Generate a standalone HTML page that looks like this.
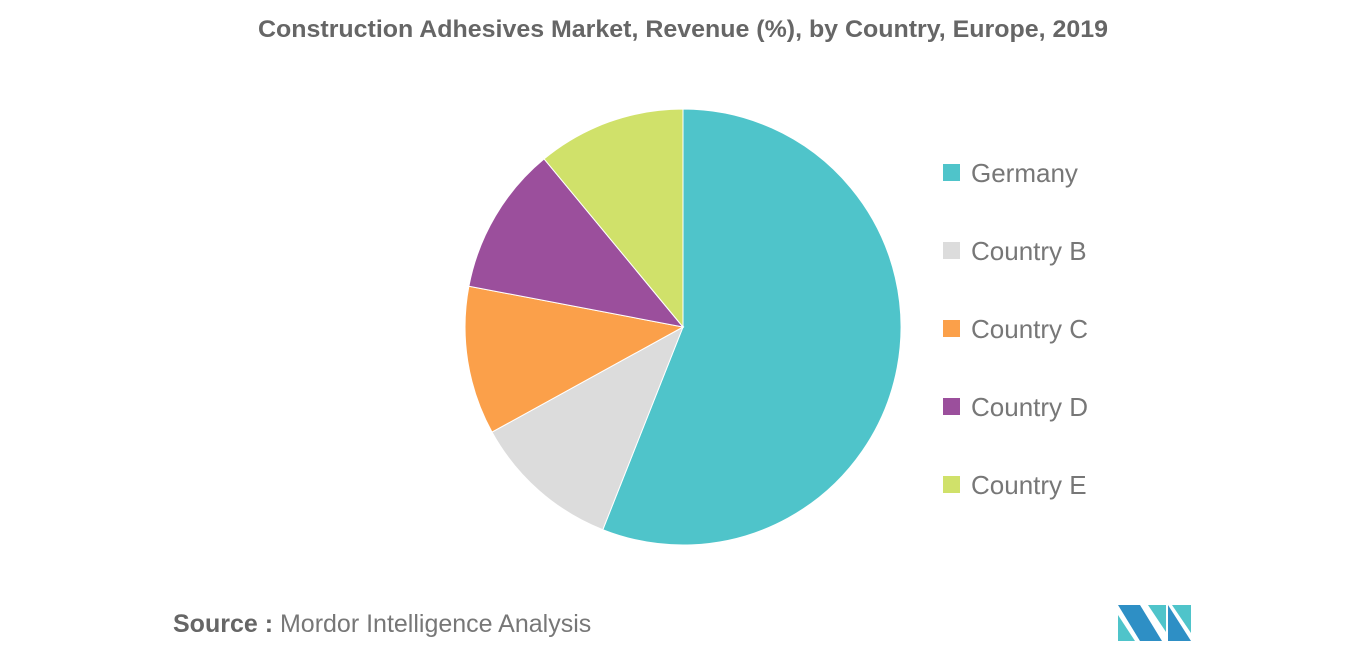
<!DOCTYPE html>
<html><head><meta charset="utf-8"><style>
body{margin:0;width:1366px;height:655px;background:#fff;overflow:hidden;font-family:"Liberation Sans",sans-serif;}
</style></head><body>
<svg width="1366" height="655" xmlns="http://www.w3.org/2000/svg">
<text x="258" y="37" textLength="850" lengthAdjust="spacingAndGlyphs" font-family="Liberation Sans" font-weight="bold" font-size="24" fill="#666">Construction Adhesives Market, Revenue (%), by Country, Europe, 2019</text>
<g stroke="#fff" stroke-width="1">
<path d="M683,327 L683,109 A218,218 0 1,1 602.8,529.7 Z" fill="#4fc4ca"/>
<path d="M683,327 L602.8,529.7 A218,218 0 0,1 492,432.1 Z" fill="#dcdcdc"/>
<path d="M683,327 L492,432.1 A218,218 0 0,1 468.9,286.2 Z" fill="#fba04a"/>
<path d="M683,327 L468.9,286.2 A218,218 0 0,1 544.1,158.9 Z" fill="#9b4f9c"/>
<path d="M683,327 L544.1,158.9 A218,218 0 0,1 683,109 Z" fill="#d0e16a"/>
</g>
<g font-family="Liberation Sans" font-size="26" fill="#777">
<rect x="943" y="164" width="17" height="17" fill="#4fc4ca"/><text x="971" y="182">Germany</text>
<rect x="943" y="242" width="17" height="17" fill="#dcdcdc"/><text x="971" y="260">Country B</text>
<rect x="943" y="320" width="17" height="17" fill="#fba04a"/><text x="971" y="338">Country C</text>
<rect x="943" y="398" width="17" height="17" fill="#9b4f9c"/><text x="971" y="416">Country D</text>
<rect x="943" y="476" width="17" height="17" fill="#d0e16a"/><text x="971" y="494">Country E</text>
</g>
<text x="173" y="632" font-family="Liberation Sans" font-size="25" fill="#777"><tspan font-weight="bold" fill="#666">Source :</tspan> Mordor Intelligence Analysis</text>
<g>
<polygon points="1118,605 1140,605 1162,641 1140,641" fill="#2e8fc5"/>
<polygon points="1118,615 1135,641 1118,641" fill="#4fc4ca"/>
<polygon points="1148,605 1166,605 1166,632" fill="#4fc4ca"/>
<polygon points="1168,605 1191,641 1168,641" fill="#2e8fc5"/>
<polygon points="1172,605 1191,605 1191,633" fill="#4fc4ca"/>
</g>
</svg>
</body></html>
